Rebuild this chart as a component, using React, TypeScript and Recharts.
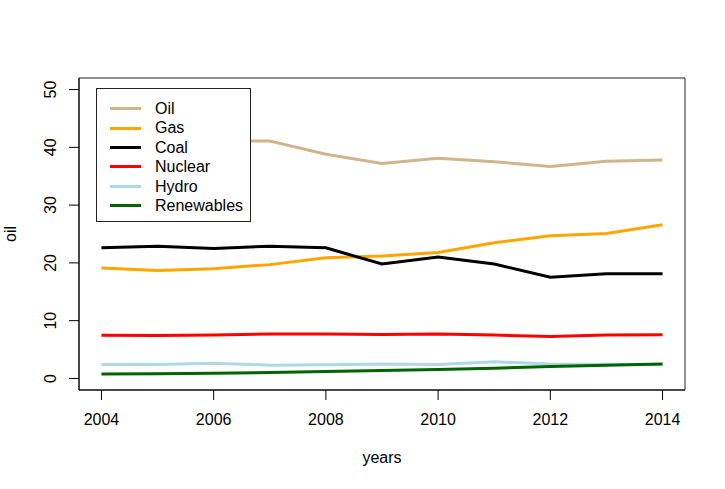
import { LineChart, Line, XAxis, YAxis, Legend, ReferenceArea, Label } from "recharts";

const FONT = '"Liberation Sans", Arial, Helvetica, sans-serif';

const years = [2004, 2005, 2006, 2007, 2008, 2009, 2010, 2011, 2012, 2013, 2014];
const xTicks = [2004, 2006, 2008, 2010, 2012, 2014];
const yTicks = [0, 10, 20, 30, 40, 50];

const oil = [40.8, 40.9, 41.1, 41.1, 38.8, 37.2, 38.1, 37.5, 36.7, 37.6, 37.8];
const gas = [19.1, 18.7, 19.0, 19.7, 20.9, 21.2, 21.8, 23.5, 24.7, 25.1, 26.6];
const coal = [22.6, 22.9, 22.5, 22.9, 22.6, 19.8, 21.0, 19.8, 17.5, 18.1, 18.1];
const nuclear = [7.47, 7.45, 7.5, 7.7, 7.7, 7.6, 7.7, 7.5, 7.24, 7.5, 7.55];
const hydro = [2.41, 2.41, 2.64, 2.3, 2.36, 2.5, 2.41, 2.87, 2.52, 2.47, 2.38];
const renewables = [0.75, 0.8, 0.92, 1.03, 1.2, 1.38, 1.55, 1.78, 2.07, 2.3, 2.52];

const series = [
  { name: "Oil", values: oil, color: "#D2B48C" },
  { name: "Gas", values: gas, color: "#FFA500" },
  { name: "Coal", values: coal, color: "#000000" },
  { name: "Nuclear", values: nuclear, color: "#FF0000" },
  { name: "Hydro", values: hydro, color: "#ADD8E6" },
  { name: "Renewables", values: renewables, color: "#006400" },
];

const data = years.map((year, i) => {
  const row: Record<string, number> = { year };
  series.forEach((s) => (row[s.name] = s.values[i]));
  return row;
});

function YTick({ x, y, payload }: any) {
  return (
    <text
      transform={`translate(${x - 17},${y}) rotate(-90)`}
      textAnchor="middle"
      dy="0.35em"
      fill="#000"
      fontSize={16}
      fontFamily={FONT}
    >
      {payload.value}
    </text>
  );
}

function LegendBox() {
  return (
    <div
      style={{
        border: "1px solid #222",
        background: "#fff",
        width: 153,
        height: 122,
        paddingTop: 10,
        boxSizing: "content-box",
        fontFamily: FONT,
        fontSize: 16,
        color: "#000",
      }}
    >
      {series.map((s) => (
        <div key={s.name} style={{ display: "flex", alignItems: "center", height: 19.4 }}>
          <span style={{ display: "inline-block", width: 31, height: 3, marginLeft: 13, background: s.color }} />
          <span style={{ marginLeft: 14, lineHeight: "19.4px" }}>{s.name}</span>
        </div>
      ))}
    </div>
  );
}

export default function App() {
  return (
    <div style={{ position: "absolute", left: 0, top: 0, width: 725, height: 489, background: "#fff" }}>
      <LineChart
        width={725}
        height={489}
        data={data}
        margin={{ top: 78, right: 40, left: 0, bottom: 0 }}
        style={{ fontFamily: FONT }}
      >
        <XAxis
          dataKey="year"
          type="number"
          domain={[2003.6, 2014.4]}
          ticks={xTicks}
          allowDataOverflow
          height={99}
          tickSize={10}
          tickMargin={14}
          stroke="#000"
          tick={{ fill: "#000", fontSize: 16, fontFamily: FONT }}
        >
          <Label value="years" position="insideBottom" offset={26} fill="#000" fontSize={16} fontFamily={FONT} />
        </XAxis>
        <YAxis
          type="number"
          domain={[-2, 52]}
          ticks={yTicks}
          allowDataOverflow
          width={79}
          tickSize={10}
          stroke="#000"
          tick={<YTick />}
        >
          <Label
            content={({ viewBox }: any) => (
              <text
                transform={`translate(${viewBox.x + 16},${viewBox.y + viewBox.height / 2}) rotate(-90)`}
                textAnchor="middle"
                fill="#000"
                fontSize={16}
                fontFamily={FONT}
              >
                oil
              </text>
            )}
          />
        </YAxis>
        <ReferenceArea
          x1={2003.6}
          x2={2014.4}
          y1={-2}
          y2={52}
          fill="none"
          stroke="#222"
          strokeWidth={1}
          ifOverflow="visible"
        />
        {series.map((s) => (
          <Line
            key={s.name}
            dataKey={s.name}
            stroke={s.color}
            strokeWidth={3}
            dot={false}
            activeDot={false}
            isAnimationActive={false}
          />
        ))}
        <Legend
          layout="vertical"
          align="center"
          verticalAlign="middle"
          content={() => <LegendBox />}
          wrapperStyle={{ position: "absolute", left: 96, top: 88, width: 155, height: 134 }}
        />
      </LineChart>
    </div>
  );
}
